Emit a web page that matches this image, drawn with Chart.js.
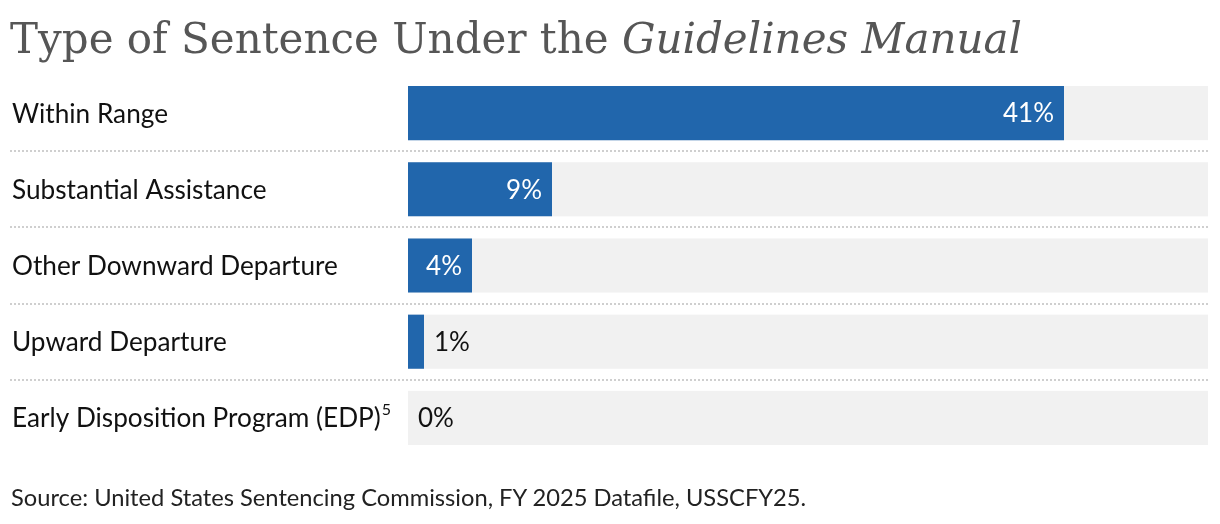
<!DOCTYPE html>
<html>
<head>
<meta charset="utf-8">
<script src="https://cdn.jsdelivr.net/npm/chart.js@4"></script>
<style>
  body { margin: 0; background: #fff; }
  #wrap { position: relative; width: 1220px; height: 524px; }
  #title { position: absolute; left: 10px; top: 14px; font-family: "DejaVu Serif", serif; font-size: 42px; color: #565656; white-space: nowrap; }
  #source { position: absolute; left: 11px; top: 483px; font-family: Lato, sans-serif; font-size: 23.7px; color: #222; white-space: nowrap; }
  canvas { position: absolute; left: 0; top: 0; }
</style>
</head>
<body>
<div id="wrap">
  <canvas id="myChart" width="1220" height="524"></canvas>
  <div id="title">Type of Sentence Under the <i>Guidelines Manual</i></div>
  <div id="source">Source: United States Sentencing Commission, FY 2025 Datafile, USSCFY25.</div>
</div>
<script>
const categories = ['Within Range', 'Substantial Assistance', 'Other Downward Departure', 'Upward Departure', 'Early Disposition Program (EDP)'];
const footnotes = ['', '', '', '', '5'];
const shares = [41, 9, 4, 1, 0];
const axisMax = 50;

const blue = '#2166ac';
const track = '#f1f1f1';

// gray track behind every bar
const trackPlugin = {
  id: 'track',
  beforeDatasetsDraw(chart) {
    const ctx = chart.ctx, area = chart.chartArea;
    ctx.save();
    ctx.fillStyle = track;
    chart.getDatasetMeta(0).data.forEach(bar => {
      ctx.fillRect(area.left, bar.y - bar.height / 2, area.right - area.left, bar.height);
    });
    ctx.restore();
  }
};

// dotted separators between rows + category labels with footnote marks
const rulePlugin = {
  id: 'rules',
  beforeDraw(chart) {
    const ctx = chart.ctx, y = chart.scales.y, area = chart.chartArea;
    ctx.save();
    ctx.strokeStyle = '#cfcfcf';
    ctx.lineWidth = 2;
    ctx.setLineDash([2, 2]);
    for (let i = 0; i < categories.length - 1; i++) {
      const py = Math.round((y.getPixelForTick(i) + y.getPixelForTick(i + 1)) / 2);
      ctx.beginPath();
      ctx.moveTo(10, py);
      ctx.lineTo(area.right, py);
      ctx.stroke();
    }
    ctx.setLineDash([]);
    ctx.fillStyle = '#111';
    ctx.textAlign = 'left';
    ctx.textBaseline = 'middle';
    categories.forEach((c, i) => {
      const py = y.getPixelForTick(i) + 1;
      ctx.font = '26.2px Lato';
      ctx.fillText(c, 12, py);
      if (footnotes[i]) {
        const w = ctx.measureText(c).width;
        ctx.font = '16px Lato';
        ctx.fillText(footnotes[i], 12 + w + 1, py - 9);
      }
    });
    ctx.restore();
  }
};

// percent labels inside or beside each bar
const valuePlugin = {
  id: 'values',
  afterDatasetsDraw(chart) {
    const ctx = chart.ctx;
    ctx.save();
    ctx.font = '26px Lato';
    ctx.textBaseline = 'middle';
    chart.getDatasetMeta(0).data.forEach((bar, i) => {
      const txt = shares[i] + '%';
      const w = ctx.measureText(txt).width;
      const barW = bar.x - bar.base;
      if (barW > w + 20) {
        ctx.fillStyle = '#fff';
        ctx.textAlign = 'right';
        ctx.fillText(txt, bar.x - 10, bar.y + 1);
      } else {
        ctx.fillStyle = '#111';
        ctx.textAlign = 'left';
        ctx.fillText(txt, bar.x + 10, bar.y + 1);
      }
    });
    ctx.restore();
  }
};

new Chart(document.getElementById('myChart'), {
  type: 'bar',
  data: {
    labels: categories,
    datasets: [{
      data: shares,
      backgroundColor: blue,
      borderWidth: 0,
      barPercentage: 0.71,
      categoryPercentage: 1.0
    }]
  },
  options: {
    indexAxis: 'y',
    responsive: false,
    animation: false,
    layout: { padding: { left: 12, right: 12, top: 75, bottom: 68 } },
    plugins: { legend: { display: false }, tooltip: { enabled: false } },
    scales: {
      x: {
        min: 0, max: axisMax,
        display: false
      },
      y: {
        grid: { display: false },
        border: { display: false },
        afterFit(scale) { scale.width = 396; },
        ticks: { display: false }
      }
    }
  },
  plugins: [trackPlugin, rulePlugin, valuePlugin]
});
</script>
</body>
</html>
